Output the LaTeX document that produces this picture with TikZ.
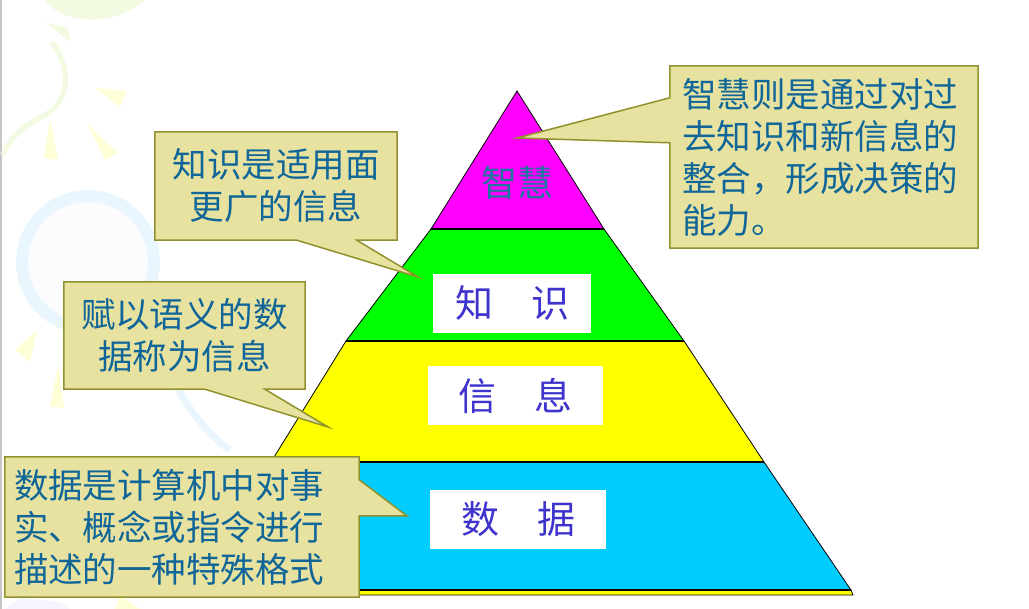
\documentclass[tikz,border=0pt]{standalone}
\usepackage{fontspec}
\newfontfamily\cjk{Noto Sans CJK SC}
\usetikzlibrary{calc,backgrounds}
\definecolor{notefill}{RGB}{232,226,160}
\definecolor{noteedge}{RGB}{145,145,45}
\definecolor{notetext}{RGB}{16,102,152}
\definecolor{labeltext}{RGB}{62,52,205}
\definecolor{wistext}{RGB}{30,118,160}
\definecolor{paleblue}{RGB}{234,246,253}
\definecolor{paleyellow}{RGB}{255,255,215}
\definecolor{palegreen}{RGB}{242,250,225}
\definecolor{wiscolor}{RGB}{255,0,255}
\definecolor{knowcolor}{RGB}{0,255,0}
\definecolor{infocolor}{RGB}{255,255,0}
\definecolor{datacolor}{RGB}{0,204,255}

\begin{document}
\begin{tikzpicture}[x=1pt,y=-1pt,
  note/.style={inner ysep=0pt,font=\cjk\fontsize{34.5}{42}\selectfont,text=notetext},
  layerlabel/.style={fill=white,inner sep=0pt,minimum height=59pt,
    font=\cjk\fontsize{38}{38}\selectfont,text=labeltext},
  layer/.style={draw=black,line width=0.8pt},
  notebox/.style={fill=notefill,draw=noteedge,line width=1.5pt}]
  \useasboundingbox (0,0) rectangle (1029,609);

  % Callout texts
  \node[note,text width=284pt,inner xsep=12pt,minimum height=182pt,align=left]
    (wisnote) at (824,157) {智慧则是通过对过\\去知识和新信息的\\整合，形成决策的\\能力。};
  \node[note,text width=222pt,inner xsep=10pt,minimum height=108pt,align=center]
    (knownote) at (276,186) {知识是适用面\\更广的信息};
  \node[note,text width=221pt,inner xsep=10pt,minimum height=107pt,align=center]
    (infonote) at (184.5,335.5) {赋以语义的数\\据称为信息};
  \node[note,text width=336pt,inner xsep=9pt,minimum height=140pt,align=left]
    (datanote) at (182,527) {数据是计算机中对事\\实、概念或指令进行\\描述的一种特殊格式};

  % Pointer tips
  \coordinate (wistip) at (517,138);
  \coordinate (knowtip) at (418,277);
  \coordinate (infotip) at (328,427);
  \coordinate (datatip) at (407,516);

  % Layer labels
  \node[text=wistext,font=\cjk\fontsize{36}{36}\selectfont] (wislabel) at (517,183) {智慧};
  \node[layerlabel,minimum width=158pt] (knowlabel) at (512,303.5) {知　识};
  \node[layerlabel,minimum width=175pt] (infolabel) at (515.5,395.5) {信　息};
  \node[layerlabel,minimum width=176pt] (datalabel) at (518,519.5) {数　据};

  \begin{scope}[on background layer]
    % Background decoration
    \fill[white] (0,0) rectangle (1029,609);
    \fill[gray!45] (0,0) rectangle (2,609);
    \fill[palegreen] (45,0) .. controls (60,22) and (110,30) .. (145,0) -- cycle;
    \fill[palegreen] (45,22) -- (68,28) -- (70,42) -- cycle;
    \draw[palegreen,line width=5pt] (52,42) .. controls (72,70) and (70,100) .. (45,115)
      .. controls (20,128) and (8,140) .. (3,155);
    \fill[paleyellow] (95,88) -- (127,91) -- (120,107) -- cycle;
    \fill[paleyellow] (50,120) -- (58,160) -- (44,158) -- cycle;
    \fill[paleyellow] (88,125) -- (118,153) -- (105,160) -- cycle;
    \fill[paleyellow] (15,350) -- (37,330) -- (30,362) -- cycle;
    \fill[paleyellow] (58,365) -- (64,408) -- (50,406) -- cycle;
    \fill[paleyellow] (120,595) -- (140,609) -- (115,609) -- cycle;
    \fill[blue!4] (5,609) -- (20,598) -- (60,602) -- (70,609) -- cycle;
    \draw[paleblue,line width=12pt,fill=blue!1] (88,262) circle (66);
    \draw[paleblue,line width=7pt] (150,320) .. controls (165,380) and (200,430) .. (230,450);

    % Pyramid layers
    \filldraw[layer,fill=wiscolor] (517,91) -- (604,229) -- (431,229) -- cycle;
    \filldraw[layer,fill=knowcolor] (431,229) -- (604,229) -- (684,341) -- (346,341) -- cycle;
    \filldraw[layer,fill=infocolor] (346,341) -- (684,341) -- (764,462) -- (271,462) -- cycle;
    \filldraw[layer,fill=datacolor] (271,462) -- (764,462) -- (851,590) -- (184,590) -- cycle;
    \filldraw[layer,fill=infocolor] (184,590) -- (851,590) -- (853,595) -- (182,595) -- cycle;
    \draw[line width=1.8pt] (431,229) -- (604,229);
    \draw[line width=1.8pt] (346,341) -- (684,341);
    \draw[line width=1.8pt] (271,462) -- (764,462);
    \draw[line width=1.8pt] (184,590) -- (851,590);

    % Callout shapes
    \draw[notebox] (wisnote.north west) -- (wisnote.north east) -- (wisnote.south east)
      -- (wisnote.south west) -- ($(wisnote.north west)+(0,77)$) -- (wistip)
      -- ($(wisnote.north west)+(0,32)$) -- cycle;
    \draw[notebox] (knownote.north west) -- (knownote.north east) -- (knownote.south east)
      -- ($(knownote.south west)+(202,0)$) -- (knowtip)
      -- ($(knownote.south west)+(142,0)$) -- (knownote.south west) -- cycle;
    \draw[notebox] (infonote.north west) -- (infonote.north east) -- (infonote.south east)
      -- ($(infonote.south west)+(201,0)$) -- (infotip)
      -- ($(infonote.south west)+(141,0)$) -- (infonote.south west) -- cycle;
    \draw[notebox] (datanote.north west) -- (datanote.north east)
      -- ($(datanote.north east)+(0,23)$) -- (datatip)
      -- ($(datanote.north east)+(0,59)$) -- (datanote.south east)
      -- (datanote.south west) -- cycle;
  \end{scope}
\end{tikzpicture}
\end{document}
